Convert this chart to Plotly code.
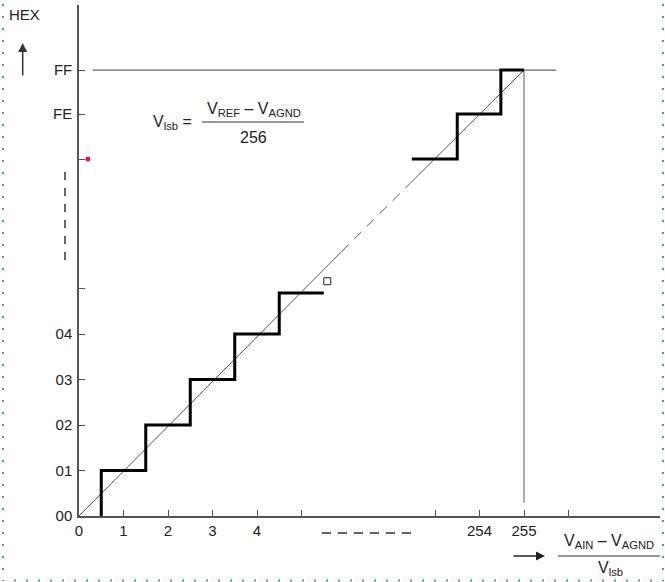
import plotly.graph_objects as go

# ---------------- data (diagram positions in axis units) ----------------
x_tick_pos = [0, 1, 2, 3, 4, 5, 8, 9, 10, 11]
x_tick_text = ["0", "1", "2", "3", "4", "", "", "254", "255", ""]
y_tick_pos = [0, 1, 2, 3, 4, 5, 7.846, 8.835, 9.8]
y_tick_text = ["00", "01", "02", "03", "04", "", "", "FE", "FF"]

low_step_x = [0.5, 0.5, 1.5, 1.5, 2.5, 2.5, 3.5, 3.5, 4.5, 4.5, 5.5]
low_step_y = [0, 1, 1, 2, 2, 3, 3, 4, 4, 4.9, 4.9]

high_step_x = [7.48, 8.5, 8.5, 9.48, 9.48, 10.0]
high_step_y = [7.846, 7.846, 8.835, 8.835, 9.8, 9.8]

diag_solid1_x = [0, 5.9]
diag_solid1_y = [0, 5.81]
diag_dash_x = [5.9, 7.45]
diag_dash_y = [5.81, 7.32]
diag_solid2_x = [7.45, 10.0]
diag_solid2_y = [7.32, 9.8]

ff_line_x = [0.31, 10.72]
ff_line_y = [9.8, 9.8]
fs_vert_x = [10.0, 10.0]
fs_vert_y = [9.8, 0.29]

square_x = [5.58]
square_y = [5.16]
red_dot_x = [0.2]
red_dot_y = [7.846]

# ---------------- layout geometry ----------------
W, H = 665, 582
ML, MR, MT, MB = 79, 5, 5, 66
PW, PH = W - ML - MR, H - MT - MB
X_UNIT, Y_UNIT = 44.5, 45.5
FONT = "Liberation Sans, Arial, Helvetica, sans-serif"
AX_COL = "#555555"


def px(x):
    return (x - ML) / PW


def py(y):
    return (H - MB - y) / PH


fig = go.Figure()

line_grey = dict(color="#555555", width=1)
fig.add_trace(go.Scatter(x=diag_solid1_x, y=diag_solid1_y, mode="lines", line=line_grey))
fig.add_trace(go.Scatter(x=diag_dash_x, y=diag_dash_y, mode="lines",
                         line=dict(color="#555555", width=1, dash="10px,8px")))
fig.add_trace(go.Scatter(x=diag_solid2_x, y=diag_solid2_y, mode="lines", line=line_grey))
fig.add_trace(go.Scatter(x=ff_line_x, y=ff_line_y, mode="lines",
                         line=dict(color="#666666", width=1.2)))
fig.add_trace(go.Scatter(x=fs_vert_x, y=fs_vert_y, mode="lines",
                         line=dict(color="#777777", width=1.2)))

step_line = dict(color="#000000", width=3, shape="linear")
fig.add_trace(go.Scatter(x=low_step_x, y=low_step_y, mode="lines", line=step_line))
fig.add_trace(go.Scatter(x=high_step_x, y=high_step_y, mode="lines", line=step_line))

fig.add_trace(go.Scatter(x=square_x, y=square_y, mode="markers",
                         marker=dict(symbol="square-open", size=7,
                                     color="#222222", line=dict(width=1))))
fig.add_trace(go.Scatter(x=red_dot_x, y=red_dot_y, mode="markers",
                         marker=dict(symbol="circle", size=5, color="#e0105a")))

# ---------------- decorations outside the plot area ----------------
shapes = []
shapes.append(dict(type="line", xref="paper", yref="paper",
                   x0=px(65), x1=px(65), y0=py(172), y1=py(262),
                   line=dict(color="#333333", width=1.5, dash="8px,8px")))
shapes.append(dict(type="line", xref="paper", yref="paper",
                   x0=px(322), x1=px(412), y0=py(533), y1=py(533),
                   line=dict(color="#333333", width=1.5, dash="9px,7px")))
shapes.append(dict(type="line", xref="paper", yref="paper",
                   x0=px(202), x1=px(304), y0=py(122), y1=py(122),
                   line=dict(color="#333333", width=1)))
shapes.append(dict(type="line", xref="paper", yref="paper",
                   x0=px(558), x1=px(660), y0=py(556), y1=py(556),
                   line=dict(color="#333333", width=1)))
frame = dict(color="#3aa89b", width=2, dash="2px,10px")
shapes.append(dict(type="line", xref="paper", yref="paper",
                   x0=px(3), x1=px(3), y0=py(4), y1=py(581), line=frame))
shapes.append(dict(type="line", xref="paper", yref="paper",
                   x0=px(14), x1=px(663), y0=py(580.5), y1=py(580.5), line=frame))
shapes.append(dict(type="line", xref="paper", yref="paper",
                   x0=px(663), x1=px(663), y0=py(4), y1=py(581), line=frame))

annotations = []
txt = dict(family=FONT, size=15, color="#222222")
annotations.append(dict(text="HEX", xref="paper", yref="paper", x=px(7), y=py(14),
                        xanchor="left", yanchor="middle", showarrow=False, font=txt))
annotations.append(dict(text="", xref="paper", yref="paper", x=px(22.7), y=py(43),
                        ax=0, ay=34, showarrow=True, arrowhead=2, arrowsize=1.2,
                        arrowwidth=1.5, arrowcolor="#333333"))
annotations.append(dict(text="", xref="paper", yref="paper", x=px(545), y=py(556),
                        ax=-33, ay=0, showarrow=True, arrowhead=2, arrowsize=1.2,
                        arrowwidth=1.5, arrowcolor="#222222"))
ftxt = dict(family=FONT, size=16, color="#222222")
annotations.append(dict(text="V<sub>lsb</sub> =", xref="paper", yref="paper",
                        x=px(151), y=py(122), xanchor="left", yanchor="middle",
                        showarrow=False, font=ftxt))
annotations.append(dict(text="V<sub>REF</sub> – V<sub>AGND</sub>", xref="paper", yref="paper",
                        x=px(254), y=py(109), xanchor="center", yanchor="middle",
                        showarrow=False, font=ftxt))
annotations.append(dict(text="256", xref="paper", yref="paper",
                        x=px(253), y=py(137), xanchor="center", yanchor="middle",
                        showarrow=False, font=ftxt))
annotations.append(dict(text="V<sub>AIN</sub> – V<sub>AGND</sub>", xref="paper", yref="paper",
                        x=px(609), y=py(541), xanchor="center", yanchor="middle",
                        showarrow=False, font=ftxt))
annotations.append(dict(text="V<sub>lsb</sub>", xref="paper", yref="paper",
                        x=px(610), y=py(568), xanchor="center", yanchor="middle",
                        showarrow=False, font=ftxt))

fig.update_layout(
    width=W, height=H,
    margin=dict(l=ML, r=MR, t=MT, b=MB, pad=0, autoexpand=False),
    paper_bgcolor="white", plot_bgcolor="white",
    showlegend=False,
    shapes=shapes, annotations=annotations,
    xaxis=dict(range=[0, PW / X_UNIT], showgrid=False, zeroline=False,
               showline=True, linecolor=AX_COL, linewidth=1.5,
               ticks="inside", ticklen=6, tickwidth=1.2, tickcolor=AX_COL,
               tickvals=x_tick_pos, ticktext=x_tick_text, automargin=False,
               tickfont=dict(family=FONT, size=15, color="#222222"), fixedrange=True),
    yaxis=dict(range=[0, PH / Y_UNIT], showgrid=False, zeroline=False,
               showline=True, linecolor=AX_COL, linewidth=1.5,
               ticks="inside", ticklen=6, tickwidth=1.2, tickcolor=AX_COL,
               tickvals=y_tick_pos, ticktext=y_tick_text, ticklabelstandoff=2,
               automargin=False,
               tickfont=dict(family=FONT, size=15, color="#222222"), fixedrange=True),
)

fig.write_html("out.html", config={"displayModeBar": False},
               post_script="document.body.style.margin='0';document.body.style.overflow='hidden';")
